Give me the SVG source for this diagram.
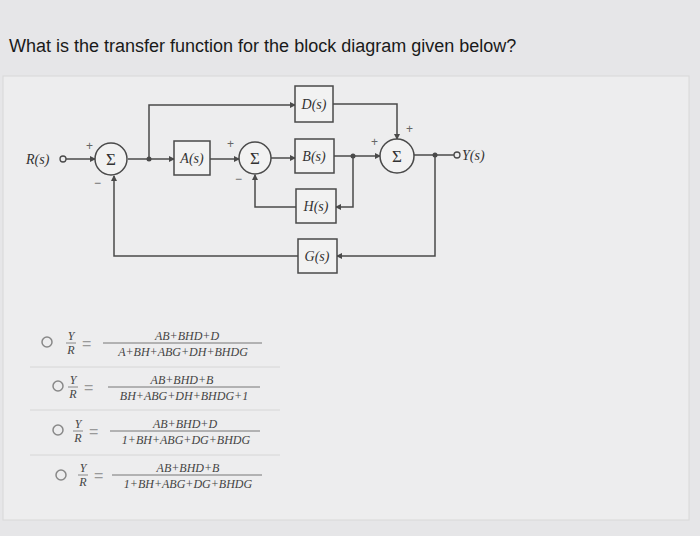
<svg xmlns="http://www.w3.org/2000/svg" width="700" height="536" viewBox="0 0 700 536">
<defs>
<marker id="ar" markerWidth="6" markerHeight="6" refX="5" refY="3" orient="auto" markerUnits="userSpaceOnUse"><path d="M0,0 L6,3 L0,6 z" fill="#4a4a4a"/></marker>
<style>
.ln{stroke:#4a4a4a;stroke-width:1.5;fill:none}
.bx{stroke:#4a4a4a;stroke-width:1.5;fill:#f2f2f2}
.t{font-family:"Liberation Serif",serif;font-style:italic;font-size:14px;fill:#333}
.s{font-family:"Liberation Serif",serif;font-size:17px;fill:#333}
.sg{font-family:"Liberation Sans",sans-serif;font-size:12px;fill:#666}
.f{font-family:"Liberation Serif",serif;font-style:italic;font-size:12px;fill:#444}
.opt{fill:none;stroke:#888;stroke-width:1.5}
.sep{stroke:#d6d6d6;stroke-width:1}
.eq{font-family:"Liberation Sans",sans-serif;font-size:16px;fill:#999}
</style>
</defs>
<rect width="700" height="536" fill="#e6e6e8"/>
<rect x="3" y="76" width="686" height="444" fill="#ededee" stroke="#d8d8d8"/>
<text x="9" y="52" font-family="Liberation Sans,sans-serif" font-size="18" fill="#1a1a1a">What is the transfer function for the block diagram given below?</text>
<g id="connectors">
<line class="ln" x1="66" y1="159" x2="95" y2="159" marker-end="url(#ar)"/>
<line class="ln" x1="128" y1="159" x2="174" y2="159" marker-end="url(#ar)"/>
<polyline class="ln" points="149,159 149,105 295,105" marker-end="url(#ar)"/>
<line class="ln" x1="210" y1="159" x2="239" y2="159" marker-end="url(#ar)"/>
<line class="ln" x1="271" y1="158" x2="295" y2="158" marker-end="url(#ar)"/>
<line class="ln" x1="334" y1="156" x2="380" y2="156" marker-end="url(#ar)"/>
<polyline class="ln" points="333,104 397,104 397,139" marker-end="url(#ar)"/>
<polyline class="ln" points="353,156 353,207 336,207" marker-end="url(#ar)"/>
<polyline class="ln" points="296,207 255,207 255,175" marker-end="url(#ar)"/>
<line class="ln" x1="414" y1="155" x2="454" y2="155"/>
<polyline class="ln" points="435,155 435,256 337,256" marker-end="url(#ar)"/>
<polyline class="ln" points="298,256 114,256 114,176" marker-end="url(#ar)"/>
<circle cx="149" cy="159" r="2.5" fill="#4a4a4a"/>
<circle cx="353" cy="156" r="2.5" fill="#4a4a4a"/>
<circle cx="435" cy="155" r="2.5" fill="#4a4a4a"/>
</g>
<g id="R"><text class="t" x="26" y="164">R(s)</text><circle cx="63" cy="159" r="3" fill="#ededee" stroke="#4a4a4a" stroke-width="1.3"/></g>
<g id="Y"><circle cx="457" cy="155" r="3" fill="#ededee" stroke="#4a4a4a" stroke-width="1.3"/><text class="t" x="462" y="160">Y(s)</text></g>
<g id="sum1"><circle class="bx" cx="111" cy="159" r="16"/><text class="s" x="111" y="165" text-anchor="middle">Σ</text><text class="sg" x="86" y="150">+</text><text class="sg" x="94" y="187">−</text></g>
<g id="A"><rect class="bx" x="174" y="141" width="36" height="34"/><text class="t" x="192" y="163" text-anchor="middle">A(s)</text></g>
<g id="sum2"><circle class="bx" cx="255" cy="158" r="16"/><text class="s" x="255" y="164" text-anchor="middle">Σ</text><text class="sg" x="227" y="148">+</text><text class="sg" x="235" y="183">−</text></g>
<g id="D"><rect class="bx" x="295" y="86" width="38" height="36"/><text class="t" x="314" y="109" text-anchor="middle">D(s)</text></g>
<g id="B"><rect class="bx" x="295" y="139" width="39" height="34"/><text class="t" x="314" y="161" text-anchor="middle">B(s)</text></g>
<g id="H"><rect class="bx" x="296" y="189" width="40" height="34"/><text class="t" x="316" y="211" text-anchor="middle">H(s)</text></g>
<g id="G"><rect class="bx" x="298" y="239" width="39" height="34"/><text class="t" x="317" y="261" text-anchor="middle">G(s)</text></g>
<g id="sum3"><circle class="bx" cx="397" cy="156" r="17"/><text class="s" x="397" y="162" text-anchor="middle">Σ</text><text class="sg" x="371" y="146">+</text><text class="sg" x="406" y="133">+</text></g>
<g id="options">
<line class="sep" x1="30" y1="367" x2="280" y2="367"/>
<line class="sep" x1="30" y1="410" x2="280" y2="410"/>
<line class="sep" x1="30" y1="455" x2="280" y2="455"/>
<circle class="opt" cx="47" cy="342" r="5"/>
<text class="f" x="71" y="340" text-anchor="middle">Y</text><line x1="66" y1="343" x2="76" y2="343" stroke="#888"/><text class="f" x="71" y="354" text-anchor="middle">R</text>
<text class="eq" x="82" y="349">=</text>
<text class="f" x="187" y="340" text-anchor="middle">AB+BHD+D</text><line x1="103" y1="343" x2="262" y2="343" stroke="#777"/><text class="f" x="183" y="356" text-anchor="middle">A+BH+ABG+DH+BHDG</text>
<circle class="opt" cx="58" cy="386" r="5"/>
<text class="f" x="73" y="384" text-anchor="middle">Y</text><line x1="68" y1="387" x2="78" y2="387" stroke="#888"/><text class="f" x="73" y="398" text-anchor="middle">R</text>
<text class="eq" x="84" y="393">=</text>
<text class="f" x="182" y="384" text-anchor="middle">AB+BHD+B</text><line x1="108" y1="387" x2="260" y2="387" stroke="#777"/><text class="f" x="184" y="400" text-anchor="middle">BH+ABG+DH+BHDG+1</text>
<circle class="opt" cx="58" cy="430" r="5"/>
<text class="f" x="78" y="428" text-anchor="middle">Y</text><line x1="73" y1="431" x2="83" y2="431" stroke="#888"/><text class="f" x="78" y="442" text-anchor="middle">R</text>
<text class="eq" x="89" y="437">=</text>
<text class="f" x="185" y="428" text-anchor="middle">AB+BHD+D</text><line x1="110" y1="431" x2="260" y2="431" stroke="#777"/><text class="f" x="186" y="444" text-anchor="middle">1+BH+ABG+DG+BHDG</text>
<circle class="opt" cx="61" cy="475" r="5"/>
<text class="f" x="83" y="472" text-anchor="middle">Y</text><line x1="78" y1="475" x2="88" y2="475" stroke="#888"/><text class="f" x="83" y="486" text-anchor="middle">R</text>
<text class="eq" x="94" y="481">=</text>
<text class="f" x="188" y="472" text-anchor="middle">AB+BHD+B</text><line x1="112" y1="475" x2="262" y2="475" stroke="#777"/><text class="f" x="188" y="488" text-anchor="middle">1+BH+ABG+DG+BHDG</text>
</g>
</svg>
